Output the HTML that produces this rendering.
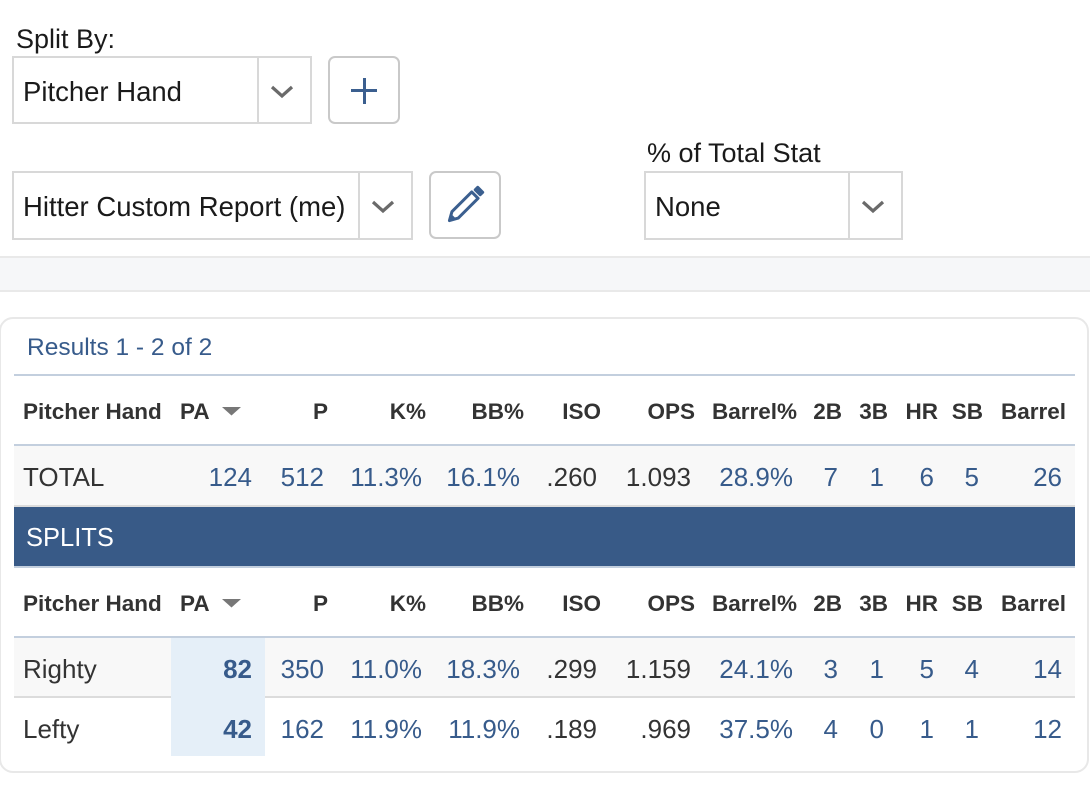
<!DOCTYPE html>
<html><head><meta charset="utf-8">
<style>
*{box-sizing:border-box;margin:0;padding:0}
html,body{width:1090px;height:788px;overflow:hidden;background:#fff;font-family:"Liberation Sans",sans-serif;color:#222}
.abs{position:absolute}
.lbl{position:absolute;font-size:27px;color:#1a1a1a;white-space:nowrap}
.sel{position:absolute;border:2px solid #d8d8d8;background:#fff}
.sel .txt{position:absolute;left:9px;top:0;bottom:0;display:flex;align-items:center;font-size:27.5px;color:#1a1a1a;white-space:nowrap;padding-top:3px}
.sel .div{position:absolute;top:0;bottom:0;width:2px;background:#d8d8d8}
.btn{position:absolute;border:2px solid #c9c9c9;border-radius:7px;background:#fff}
.row{position:absolute;left:14px;width:1061px;display:flex;align-items:center}
.c{flex:none;text-align:right;padding-right:12px;white-space:nowrap;position:relative;top:2px}
.h .c{padding-right:8px}
.c.f{text-align:left;padding-left:9px;padding-right:0}
.h{font-weight:bold;font-size:22.5px;color:#333}
.d{font-size:26px;color:#333}
.b{color:#375b8b}
.tri{display:inline-block;vertical-align:middle;margin-left:12px;position:relative;top:-2px}
</style></head><body>

<div class="lbl" style="left:16px;top:24px;">Split By:</div>

<div class="sel" style="left:12px;top:56px;width:300px;height:68px;">
  <div class="txt">Pitcher Hand</div>
  <div class="div" style="left:243px"></div>
  <svg class="abs" style="left:256px;top:26px" width="26" height="16"><polyline points="2,3 12,12 22,3" fill="none" stroke="#6a6a6a" stroke-width="3.2"/></svg>
</div>

<div class="btn" style="left:328px;top:56px;width:72px;height:68px;">
  <div class="abs" style="left:21px;top:31px;width:26px;height:3px;background:#3b5f8f"></div>
  <div class="abs" style="left:32.5px;top:19.5px;width:3px;height:26px;background:#3b5f8f"></div>
</div>

<div class="lbl" style="left:647px;top:138px;">% of Total Stat</div>

<div class="sel" style="left:12px;top:171px;width:401px;height:69px;">
  <div class="txt">Hitter Custom Report (me)</div>
  <div class="div" style="left:344px"></div>
  <svg class="abs" style="left:357px;top:26px" width="26" height="16"><polyline points="2,3 12,12 22,3" fill="none" stroke="#6a6a6a" stroke-width="3.2"/></svg>
</div>

<div class="btn" style="left:429px;top:171px;width:72px;height:68px;">
  <svg class="abs" style="left:0;top:0" width="68" height="64">
    <g transform="translate(34,32) rotate(-45)">
      <path d="M-22,0 L-14,-4.5 L14,-4.5 L14,4.5 L-14,4.5 Z" fill="none" stroke="#3b5f8f" stroke-width="3" stroke-linejoin="round"/>
      <path d="M-22,0 L-16,-3.5 L-16,3.5 Z" fill="#3b5f8f"/>
      <rect x="16.5" y="-5" width="6.5" height="10" rx="1.5" fill="#3b5f8f"/>
    </g>
  </svg>
</div>

<div class="sel" style="left:644px;top:171px;width:259px;height:69px;">
  <div class="txt">None</div>
  <div class="div" style="left:202px"></div>
  <svg class="abs" style="left:215px;top:26px" width="26" height="16"><polyline points="2,3 12,12 22,3" fill="none" stroke="#6a6a6a" stroke-width="3.2"/></svg>
</div>

<div class="abs" style="left:0;top:256px;width:1090px;height:36px;background:#f6f7f9;border-top:2px solid #e9e9e9;border-bottom:2px solid #e9e9e9"></div>

<div class="abs" style="left:-1px;top:317px;width:1090px;height:456px;border:2px solid #e8e8e8;border-radius:14px;background:#fff"></div>

<div class="abs" style="left:27px;top:334px;font-size:24.5px;color:#375b8b;white-space:nowrap">Results 1 - 2 of 2</div>

<div class="abs" style="left:14px;top:374px;width:1061px;height:2px;background:#c3cfde"></div>

<!-- header 1 -->
<div class="row h" style="top:376px;height:68px;">
  <div class="c f" style="width:157px">Pitcher Hand</div>
  <div class="c f" style="width:93px">PA<svg class="tri" width="20" height="9"><polygon points="0,0 19,0 9.5,8.5" fill="#777"/></svg></div>
  <div class="c" style="width:72px">P</div>
  <div class="c" style="width:98px">K%</div>
  <div class="c" style="width:98px">BB%</div>
  <div class="c" style="width:77px">ISO</div>
  <div class="c" style="width:94px">OPS</div>
  <div class="c" style="width:102px">Barrel%</div>
  <div class="c" style="width:45px">2B</div>
  <div class="c" style="width:46px">3B</div>
  <div class="c" style="width:50px">HR</div>
  <div class="c" style="width:45px">SB</div>
  <div class="c" style="width:83px">Barrel</div>
</div>
<div class="abs" style="left:14px;top:444px;width:1061px;height:2px;background:#c3cfde"></div>

<!-- total -->
<div class="row d" style="top:446px;height:59px;background:#f8f8f8">
  <div class="c f" style="width:157px">TOTAL</div>
  <div class="c b" style="width:93px">124</div>
  <div class="c b" style="width:72px">512</div>
  <div class="c b" style="width:98px">11.3%</div>
  <div class="c b" style="width:98px">16.1%</div>
  <div class="c" style="width:77px">.260</div>
  <div class="c" style="width:94px">1.093</div>
  <div class="c b" style="width:102px">28.9%</div>
  <div class="c b" style="width:45px">7</div>
  <div class="c b" style="width:46px">1</div>
  <div class="c b" style="width:50px">6</div>
  <div class="c b" style="width:45px">5</div>
  <div class="c b" style="width:83px">26</div>
</div>
<div class="abs" style="left:14px;top:505px;width:1061px;height:2px;background:#dcdcdc"></div>

<!-- splits bar -->
<div class="abs" style="left:14px;top:507px;width:1061px;height:59px;background:#385a87;color:#fff;font-size:25.5px;display:flex;align-items:center;padding-left:12px;padding-top:3px">SPLITS</div>
<div class="abs" style="left:14px;top:566px;width:1061px;height:2px;background:#c3cfde"></div>

<!-- header 2 -->
<div class="row h" style="top:568px;height:68px;">
  <div class="c f" style="width:157px">Pitcher Hand</div>
  <div class="c f" style="width:93px">PA<svg class="tri" width="20" height="9"><polygon points="0,0 19,0 9.5,8.5" fill="#777"/></svg></div>
  <div class="c" style="width:72px">P</div>
  <div class="c" style="width:98px">K%</div>
  <div class="c" style="width:98px">BB%</div>
  <div class="c" style="width:77px">ISO</div>
  <div class="c" style="width:94px">OPS</div>
  <div class="c" style="width:102px">Barrel%</div>
  <div class="c" style="width:45px">2B</div>
  <div class="c" style="width:46px">3B</div>
  <div class="c" style="width:50px">HR</div>
  <div class="c" style="width:45px">SB</div>
  <div class="c" style="width:83px">Barrel</div>
</div>
<div class="abs" style="left:14px;top:636px;width:1061px;height:2px;background:#c3cfde"></div>

<!-- righty / lefty backgrounds -->
<div class="abs" style="left:14px;top:638px;width:1061px;height:58px;background:#f8f8f8"></div>
<div class="abs" style="left:14px;top:696px;width:1061px;height:2px;background:#dcdcdc"></div>
<div class="abs" style="left:171px;top:638px;width:94px;height:118px;background:#e5eff8"></div>

<div class="row d" style="top:638px;height:58px;">
  <div class="c f" style="width:157px">Righty</div>
  <div class="c b" style="width:93px;font-weight:bold">82</div>
  <div class="c b" style="width:72px">350</div>
  <div class="c b" style="width:98px">11.0%</div>
  <div class="c b" style="width:98px">18.3%</div>
  <div class="c" style="width:77px">.299</div>
  <div class="c" style="width:94px">1.159</div>
  <div class="c b" style="width:102px">24.1%</div>
  <div class="c b" style="width:45px">3</div>
  <div class="c b" style="width:46px">1</div>
  <div class="c b" style="width:50px">5</div>
  <div class="c b" style="width:45px">4</div>
  <div class="c b" style="width:83px">14</div>
</div>

<div class="row d" style="top:698px;height:58px;">
  <div class="c f" style="width:157px">Lefty</div>
  <div class="c b" style="width:93px;font-weight:bold">42</div>
  <div class="c b" style="width:72px">162</div>
  <div class="c b" style="width:98px">11.9%</div>
  <div class="c b" style="width:98px">11.9%</div>
  <div class="c" style="width:77px">.189</div>
  <div class="c" style="width:94px">.969</div>
  <div class="c b" style="width:102px">37.5%</div>
  <div class="c b" style="width:45px">4</div>
  <div class="c b" style="width:46px">0</div>
  <div class="c b" style="width:50px">1</div>
  <div class="c b" style="width:45px">1</div>
  <div class="c b" style="width:83px">12</div>
</div>

</body></html>
